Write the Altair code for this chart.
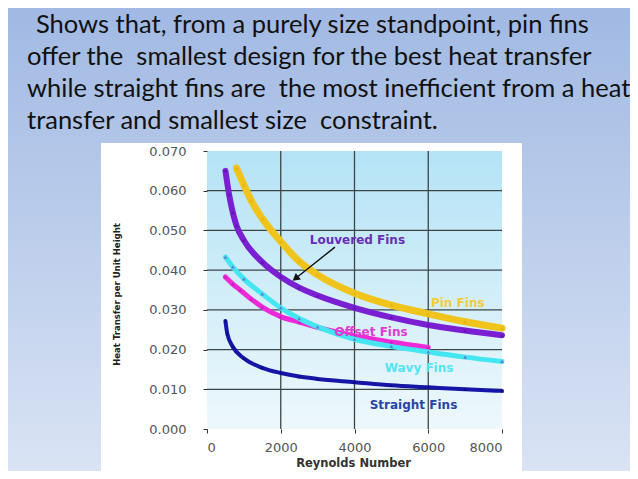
import altair as alt
import pandas as pd

# ---------------- data ----------------
re_pin = [800, 1000, 1200, 1500, 2000, 2500, 3000, 4000, 5000, 6000, 7000, 8000]
pin = [0.0657, 0.0615, 0.0575, 0.0530, 0.0472, 0.0422, 0.0388, 0.0342, 0.0312, 0.0290, 0.0270, 0.0254]

re_louv = [500, 600, 700, 800, 1000, 1500, 2000, 2500, 3000, 4000, 5000, 6000, 7000, 8000]
louv = [0.0650, 0.0590, 0.0545, 0.0512, 0.0475, 0.0420, 0.0383, 0.0356, 0.0336, 0.0305, 0.0281, 0.0262, 0.0248, 0.0236]

re_wavy = [500, 700, 1000, 1500, 2000, 2500, 3000, 4000, 5000, 6000, 7000, 8000]
wavy = [0.0433, 0.0408, 0.0378, 0.0340, 0.0305, 0.0278, 0.0257, 0.0226, 0.0208, 0.0194, 0.0181, 0.0170]

re_off = [500, 700, 900, 1200, 1500, 2000, 2500, 3000, 4000, 5000, 6000]
off = [0.0383, 0.0365, 0.0350, 0.0327, 0.0307, 0.0283, 0.0269, 0.0256, 0.0235, 0.0219, 0.0205]

re_str = [500, 550, 700, 1000, 1500, 2000, 2500, 3000, 4000, 5000, 6000, 7000, 8000]
straight = [0.0272, 0.0240, 0.0207, 0.0178, 0.0154, 0.0141, 0.0132, 0.0126, 0.0118, 0.0110, 0.0105, 0.0100, 0.0096]

label_names = ["Louvered Fins", "Pin Fins", "Offset Fins", "Wavy Fins", "Straight Fins"]
label_re = [4080, 6800, 4450, 5750, 5600]
label_val = [0.0476, 0.0317, 0.0245, 0.0154, 0.0060]
label_colors = ["#6a2db4", "#f2cc3a", "#e03cd2", "#55e4f2", "#2a44a6"]

arrow_re = [3470, 2400]
arrow_val = [0.0458, 0.0379]

x_ticks = [0, 2000, 4000, 6000, 8000]
y_ticks = [0.0, 0.01, 0.02, 0.03, 0.04, 0.05, 0.06, 0.07]
x_grid = [2000, 4000, 6000]
y_grid = [0.01, 0.02, 0.03, 0.04, 0.05, 0.06]

NB = "\u00a0"
title_lines = [
    "Shows that, from a purely size standpoint, pin fins",
    "offer the" + NB + " smallest design for the best heat transfer",
    "while straight fins are" + NB + " the most inefficient from a heat",
    "transfer and smallest size" + NB + " constraint.",
]

W, H = 295, 278
XS = alt.Scale(domain=[0, 8000], nice=False, zero=False)
YS = alt.Scale(domain=[0, 0.07], nice=False, zero=False)

one = pd.DataFrame({"k": [0]})


def grad(c1, c2):
    return alt.Gradient(
        gradient="linear",
        stops=[alt.GradientStop(color=c1, offset=0), alt.GradientStop(color=c2, offset=1)],
        x1=0, x2=0, y1=0, y2=1,
    )


X_AXIS = alt.Axis(
    values=x_ticks, format="d", grid=False, domain=False, zindex=2,
    tickSize=4, tickColor="#333", labelPadding=8,
    labelFont="DejaVu Sans", labelFontSize=13, labelColor="#555",
    titleFont="DejaVu Sans", titleFontWeight="bold",
    titleFontSize=11.5, titleColor="#333", titleX=146, titleY=34,
    titleBaseline="middle", titleAlign="center",
)
Y_AXIS = alt.Axis(
    values=y_ticks, format=".3f", grid=False, domain=False, zindex=2,
    tickSize=4, tickColor="#333", labelPadding=17,
    labelFont="DejaVu Sans", labelFontSize=13, labelColor="#555",
    titleFont="'Liberation Sans Narrow', 'DejaVu Sans Condensed', 'Liberation Sans', sans-serif",
    titleFontWeight="bold", titleFontSize=9.5, titleColor="#222",
    titleX=-91, titleY=143, titleAngle=270, titleAlign="center",
    titleBaseline="middle",
)
X_TITLE = "Reynolds Number"
Y_TITLE = "Heat Transfer per Unit Height"


def xenc(field):
    return alt.X(field, scale=XS, axis=X_AXIS, title=X_TITLE)


def yenc(field):
    return alt.Y(field, scale=YS, axis=Y_AXIS, title=Y_TITLE)


slide_bg = alt.Chart(one).mark_rect(color=grad("#a1b9e3", "#d9e3f4")).encode(
    x=alt.value(-199), x2=alt.value(423), y=alt.value(-143), y2=alt.value(320)
)
white_box = alt.Chart(one).mark_rect(color="#ffffff").encode(
    x=alt.value(-106), x2=alt.value(315), y=alt.value(-8), y2=alt.value(330)
)
plot_bg = alt.Chart(one).mark_rect(color=grad("#b4e3f6", "#eef8fc")).encode(
    x=alt.value(0), x2=alt.value(W), y=alt.value(0), y2=alt.value(H)
)

vgrid = alt.Chart(pd.DataFrame({"g": x_grid})).mark_rule(color="#3c4646", strokeWidth=1.3).encode(
    x=xenc("g:Q")
)
hgrid = alt.Chart(pd.DataFrame({"g": y_grid})).mark_rule(color="#3c4646", strokeWidth=1.3).encode(
    y=yenc("g:Q")
)


def series(xs, ys, color, width, mcolor):
    df = pd.DataFrame({"re": xs, "v": ys})
    base = alt.Chart(df).encode(x=xenc("re:Q"), y=yenc("v:Q"))
    line = base.mark_line(color=color, strokeWidth=width, interpolate="monotone",
                          strokeCap="round", strokeJoin="round")
    pts = base.mark_point(shape="triangle-up", filled=True, size=14, color=mcolor, opacity=0.8)
    return line + pts


s_str = series(re_str, straight, "#1515a6", 4, "#0a0a80")
s_off = series(re_off, off, "#ee2ad8", 5, "#b020b8")
s_wavy = series(re_wavy, wavy, "#44e6f0", 5, "#6a5fd0")
s_louv = series(re_louv, louv, "#7a1fd2", 6, "#5a10a8")
s_pin = series(re_pin, pin, "#f1c41c", 7, "#e0b010")

arrow_df = pd.DataFrame({"x1": [arrow_re[0]], "y1": [arrow_val[0]], "x2": [arrow_re[1]], "y2": [arrow_val[1]]})
arrow_line = alt.Chart(arrow_df).mark_rule(color="#111", strokeWidth=1.4).encode(
    x=xenc("x1:Q"), y=yenc("y1:Q"), x2="x2:Q", y2="y2:Q"
)
arrow_head = alt.Chart(arrow_df).mark_point(shape="triangle-up", filled=True, size=70,
                                             color="#111", opacity=1, angle=232).encode(
    x=xenc("x2:Q"), y=yenc("y2:Q")
)

lab_df = pd.DataFrame({"name": label_names, "re": label_re, "v": label_val, "c": label_colors})
labels = alt.Chart(lab_df).mark_text(font="DejaVu Sans", fontWeight="bold", fontSize=12,
                                     align="center", baseline="middle").encode(
    x=xenc("re:Q"), y=yenc("v:Q"), text="name:N",
    color=alt.Color("c:N", scale=None, legend=None),
)

title_layers = []
title_y = [-126, -94, -62, -30]
title_x = [-171, -180, -180, -180]
for i, t in enumerate(title_lines):
    title_layers.append(
        alt.Chart(one).mark_text(font="Lato", fontSize=25.5, color="#111", align="left",
                                 baseline="middle").encode(
            x=alt.value(title_x[i]), y=alt.value(title_y[i]), text=alt.value(t)
        )
    )

chart = alt.layer(
    slide_bg, white_box, plot_bg, vgrid, hgrid,
    s_str, s_off, s_wavy, s_louv, s_pin,
    arrow_line, arrow_head, labels, *title_layers,
).properties(
    width=W, height=H,
    padding={"left": 199, "top": 143, "right": 128, "bottom": 42},
    autosize="none",
).configure_view(stroke="#333", strokeWidth=1.5)

chart.save("out.html", embed_options={"renderer": "svg", "actions": False})
